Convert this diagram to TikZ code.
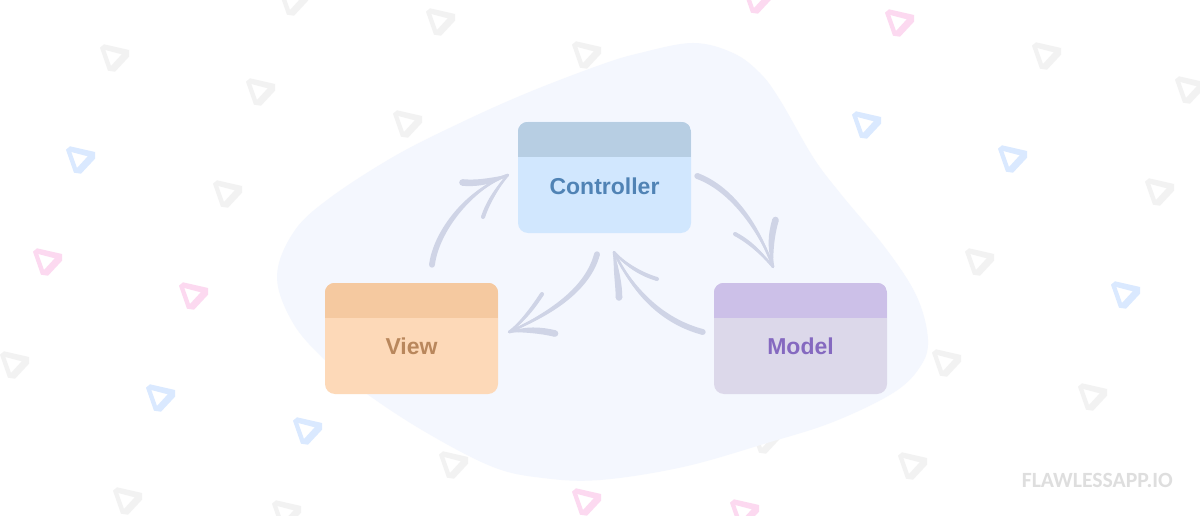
\documentclass[tikz,border=0pt]{standalone}
\usepackage{fontspec}
\newfontfamily\winfont{Liberation Sans}
\newfontfamily\markfont{Carlito}
\usetikzlibrary{calc}
\definecolor{tgrey}{HTML}{F2F2F2}
\definecolor{tblue}{HTML}{DAE9FF}
\definecolor{tpink}{HTML}{FCD9F0}
\definecolor{blobc}{HTML}{F4F7FE}
\definecolor{arrowc}{HTML}{CFD4E6}
\definecolor{chead}{HTML}{B7CEE3}
\definecolor{cbody}{HTML}{D1E7FE}
\definecolor{ctext}{HTML}{5083B5}
\definecolor{vhead}{HTML}{F5C9A0}
\definecolor{vbody}{HTML}{FDD9B8}
\definecolor{vtext}{HTML}{B9875C}
\definecolor{mhead}{HTML}{CCC0E8}
\definecolor{mbody}{HTML}{DCD8EA}
\definecolor{mtext}{HTML}{8569C0}
\tikzset{
  x=1pt,y=-1pt,
  tri/.pic={\fill[even odd rule,pic actions] (-14,-10.3) -- (-10,-13.7) -- (15,-8) -- (15,-1.3) -- (1,13.7) -- (-6,12.7) -- cycle
     (-8.7,-8) -- (7.7,-3.7) -- (-3,8) -- cycle;},
  winbox/.style={rounded corners=10pt,minimum width=173pt,minimum height=111pt,inner sep=0pt,fill=#1},
  wintext/.style={text=#1,font=\winfont\bfseries\fontsize{23}{27}\selectfont,inner sep=0pt},
  stroke/.style={draw=arrowc,line width=2.6pt,line cap=round},
}
\newcommand{\wintop}[3]{%
  \begin{scope}
    \clip[rounded corners=10pt] (#1.north west) rectangle (#1.south east);
    \fill[#2] (#1.north west) rectangle ($(#1.north east)+(0,#3)$);
  \end{scope}}
% tip, control, control, wide end, half width at the wide end
\newcommand{\swoosh}[5]{%
  \draw[stroke] (#1) .. controls (#2) and (#3) .. (#4);
  \fill[arrowc] (#1) .. controls ($(#2)!#5pt!90:(#3)$) and ($(#3)!#5pt!90:(#4)$) .. ($(#4)!#5pt!-90:(#3)$)
     -- ($(#4)!#5pt!90:(#3)$) .. controls ($(#3)!#5pt!-90:(#4)$) and ($(#2)!#5pt!-90:(#3)$) .. (#1) -- cycle;
  \fill[arrowc] (#4) circle[radius=#5pt];}
\begin{document}
\begin{tikzpicture}
\useasboundingbox (0,0) rectangle (1200,516);
\clip (0,0) rectangle (1200,516);
\fill[white] (0,0) rectangle (1200,516);
\foreach \p in {(114,58),(260,92),(227,194),(14,365),(127,501),(407,124),(440,22),(293,2),(586,55),(1046,56),(1189,90),(1159,192),(979,262),(946,363),(1092,397),(912,466),(453,465),(286,514),(765,440)}
  \pic[fill=tgrey] at \p {tri};
\foreach \p in {(80,160),(160,398),(307,431),(866,125),(1012,159),(1125,295)}
  \pic[fill=tblue] at \p {tri};
\foreach \p in {(47,262),(193,296),(899,23),(757,0),(586,502),(744,513)}
  \pic[fill=tpink] at \p {tri};
\fill[blobc] plot[smooth cycle,tension=0.6] coordinates {
  (277,277) (293,233) (327,200) (393,157) (460,123) (527,93) (600,65) (640,53) (693,43)
  (733,53) (760,73) (780,100) (813,157) (840,193) (887,250) (917,297) (928,340) (920,367)
  (893,393) (833,422) (767,443) (683,467) (600,480) (543,478) (493,467) (427,433) (367,394)
  (325,360) (293,323)};
\node[winbox=cbody] (ctrl) at (604.5,177.5) {};
\wintop{ctrl}{chead}{35}
\node[winbox=vbody] (view) at (411.5,338.5) {};
\wintop{view}{vhead}{35}
\node[winbox=mbody] (model) at (800.5,338.5) {};
\wintop{model}{mhead}{35}
\node[wintext=ctext] (ctrlt) at (604.5,186) {Controller};
\node[wintext=vtext] (viewt) at (411.5,346) {View};
\node[wintext=mtext] (modelt) at (800.5,346) {Model};
\coordinate (vs) at ($(view.north)+(20.5,-18)$);
\coordinate (ct1) at ($(ctrl.west)+(-10,-2.5)$);
\coordinate (cs) at ($(ctrl.east)+(6,-1.5)$);
\coordinate (mt) at ($(model.north)+(-27.5,-16)$);
\coordinate (cb) at ($(ctrl.south)+(-7.5,21)$);
\coordinate (vt) at ($(view.east)+(11,-6.5)$);
\coordinate (ms) at ($(model.west)+(-11,-6.5)$);
\coordinate (ct2) at ($(ctrl.south)+(9.5,19)$);
\coordinate (b1a) at (462.5,182.5); \coordinate (b1b) at (483,217);
\coordinate (b2a) at (775.5,220);   \coordinate (b2b) at (735,234);
\coordinate (b3a) at (555,333.5);   \coordinate (b3b) at (542,294);
\coordinate (b4a) at (619,297.5);   \coordinate (b4b) at (657,279);
% View -> Controller
\swoosh{ct1}{468,190}{436,232}{vs}{2.9}
\swoosh{ct1}{495,180}{480,184}{b1a}{3.3}
\swoosh{ct1}{497,188}{488,202}{b1b}{2}
% Controller -> Model
\swoosh{mt}{758,225}{730,188}{cs}{2.9}
\swoosh{mt}{770,250}{771,235}{b2a}{3.3}
\swoosh{mt}{760,252}{750,242}{b2b}{2}
% Controller -> View
\swoosh{vt}{545,316}{587,292}{cb}{2.9}
\swoosh{vt}{525,329}{540,330}{b3a}{3.3}
\swoosh{vt}{522,322}{533,308}{b3b}{2}
% Model -> Controller
\swoosh{ct2}{635,295}{665,322}{ms}{2.9}
\swoosh{ct2}{616,270}{619,285}{b4a}{3.3}
\swoosh{ct2}{625,264}{640,274}{b4b}{2}
\node[text=black!13,font=\markfont\bfseries\fontsize{21.7}{26}\selectfont,inner sep=0pt,anchor=east] (mark) at (1173,480) {FLAWLESSAPP.IO};
\end{tikzpicture}
\end{document}
